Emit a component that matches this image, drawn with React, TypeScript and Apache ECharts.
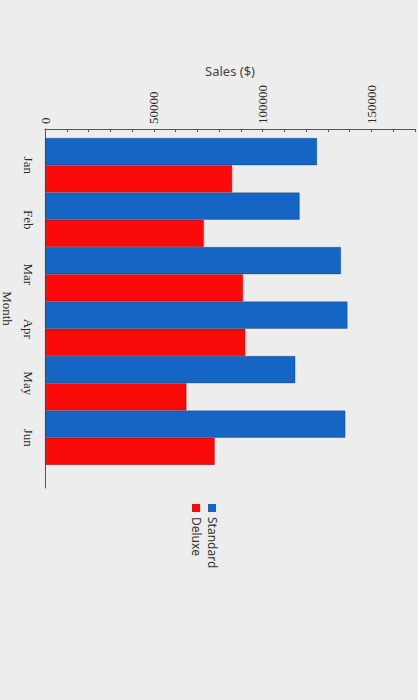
import React, { useEffect, useRef } from "react";
import * as echarts from "echarts";

const months = ["Jan", "Feb", "Mar", "Apr", "May", "Jun"];
const standardSales = [125000, 117000, 136000, 139000, 115000, 138000];
const deluxeSales = [86000, 73000, 91000, 92000, 65000, 78000];
const seriesNames = ["Standard", "Deluxe"];
const seriesColors = ["#1565c4", "#fb0a0a"];
const labeledTicks = [0, 50000, 100000, 150000];

export default function App() {
  const ref = useRef<HTMLDivElement>(null);

  useEffect(() => {
    if (!ref.current) return;
    const chart = echarts.init(ref.current, null, { renderer: "svg" });

    const legendGraphics = seriesNames.map((name, i) => ({
      type: "group",
      x: 216 - i * 16,
      y: 504,
      rotation: -Math.PI / 2,
      children: [
        { type: "rect", shape: { x: 0, y: 0, width: 8, height: 8 }, style: { fill: seriesColors[i] } },
        {
          type: "text",
          x: 13,
          y: 4,
          style: {
            text: name,
            fill: "#333",
            font: "12px 'Noto Sans'",
            align: "left",
            verticalAlign: "middle",
          },
        },
      ],
    }));

    chart.setOption({
      animation: false,
      backgroundColor: "#ededed",
      grid: [
        { left: 45, right: 3, top: 138, bottom: 235 },
        { left: 45, width: 1, top: 129, bottom: 212 },
      ],
      xAxis: [
        {
          type: "value",
          gridIndex: 0,
          position: "top",
          offset: 9,
          min: 0,
          max: 170000,
          interval: 10000,
          name: "Sales ($)",
          nameLocation: "middle",
          nameGap: 52,
          nameTextStyle: { fontFamily: "Noto Sans", fontSize: 13, color: "#444" },
          axisLine: { show: true, lineStyle: { color: "#555", width: 1 } },
          axisTick: { show: true, inside: true, length: 3, lineStyle: { color: "#555" } },
          axisLabel: {
            rotate: -90,
            margin: 5,
            fontFamily: "Liberation Serif",
            fontSize: 13,
            color: "#2a2a2a",
            formatter: (v: number) => (labeledTicks.indexOf(v) >= 0 ? String(v) : ""),
          },
          splitLine: { show: false },
        },
        { type: "value", gridIndex: 1, show: false },
      ],
      yAxis: [
        {
          type: "category",
          gridIndex: 0,
          data: months,
          inverse: true,
          axisLine: { show: false },
          axisTick: { show: false },
          axisLabel: {
            rotate: -90,
            margin: 10,
            fontFamily: "Liberation Serif",
            fontSize: 13,
            color: "#2a2a2a",
          },
        },
        {
          type: "value",
          gridIndex: 1,
          position: "left",
          name: "Month",
          nameLocation: "middle",
          nameRotate: -90,
          nameGap: 31,
          nameTextStyle: { fontFamily: "Liberation Serif", fontSize: 13, color: "#2a2a2a" },
          axisLine: { show: true, onZero: false, lineStyle: { color: "#555", width: 1 } },
          axisTick: { show: false },
          axisLabel: { show: false },
          splitLine: { show: false },
        },
      ],
      series: [
        {
          name: seriesNames[0],
          type: "bar",
          xAxisIndex: 0,
          yAxisIndex: 0,
          data: standardSales,
          barGap: "0%",
          barCategoryGap: "0%",
          itemStyle: { color: seriesColors[0], borderColor: "rgba(30,30,60,0.5)", borderWidth: 0.6 },
        },
        {
          name: seriesNames[1],
          type: "bar",
          xAxisIndex: 0,
          yAxisIndex: 0,
          data: deluxeSales,
          barGap: "0%",
          barCategoryGap: "0%",
          itemStyle: { color: seriesColors[1], borderColor: "rgba(30,30,60,0.5)", borderWidth: 0.6 },
        },
      ],
      graphic: legendGraphics,
    });

    return () => chart.dispose();
  }, []);

  return (
    <div
      ref={ref}
      style={{ position: "fixed", left: 0, top: 0, width: 418, height: 700 }}
    />
  );
}
